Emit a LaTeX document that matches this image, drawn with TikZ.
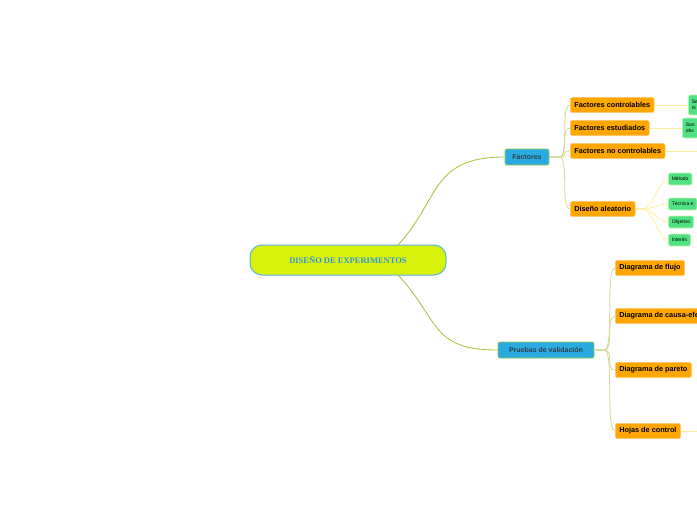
\documentclass[tikz,border=0pt]{standalone}
\usetikzlibrary{calc}
\usepackage{fontspec}
\setsansfont{Liberation Sans}
\setmainfont{Liberation Serif}
\begin{document}
\begin{tikzpicture}[x=1pt,y=-1pt,
 base/.style={rounded corners=2pt,inner sep=0pt,font=\sffamily\bfseries},
 root/.style={base,rounded corners=12pt,fill={rgb,255:red,217;green,242;blue,12},draw={rgb,255:red,90;green,180;blue,230},line width=1pt,minimum width=196pt,minimum height=30pt,font=\rmfamily\bfseries\fontsize{8.5}{9}\selectfont,text={rgb,255:red,50;green,150;blue,220}},
 blue/.style={base,fill={rgb,255:red,41;green,171;blue,226},draw={rgb,255:red,150;green,200;blue,80},line width=0.8pt,minimum height=16pt,font=\sffamily\bfseries\fontsize{7}{8}\selectfont,text={rgb,255:red,50;green,60;blue,70}},
 orange/.style={base,fill={rgb,255:red,255;green,166;blue,0},draw={rgb,255:red,255;green,200;blue,110},line width=0.6pt,minimum height=15pt,font=\sffamily\bfseries\fontsize{7.3}{8}\selectfont,anchor=west,inner xsep=4pt},
 green/.style={base,fill={rgb,255:red,80;green,225;blue,130},draw={rgb,255:red,200;green,245;blue,180},line width=0.6pt,minimum height=12pt,font=\sffamily\fontsize{5}{5.5}\selectfont,anchor=west,inner xsep=3.5pt,align=left},
 l1/.style={draw={rgb,255:red,170;green,190;blue,60},line width=0.8pt},
 l2/.style={draw={rgb,255:red,215;green,215;blue,150},line width=0.8pt},
 l3/.style={draw={rgb,255:red,255;green,240;blue,160},line width=0.8pt}]
\useasboundingbox (0,0) rectangle (697,520);
\clip (0,0) rectangle (697,520);
\fill[white] (0,0) rectangle (697,520);
\node[root] (r) at (348,260) {DISEÑO DE EXPERIMENTOS};
\node[blue,minimum width=44pt] (f) at (527,157) {Factores};
\node[blue,minimum width=96pt] (p) at (546,350) {Pruebas de validación};
\node[orange] (fc) at (570,105) {Factores controlables};
\node[orange] (fe) at (570,128) {Factores estudiados};
\node[orange] (fn) at (570,151) {Factores no controlables};
\node[orange] (da) at (570,209) {Diseño aleatorio};
\node[orange] (d1) at (615,268) {Diagrama de flujo};
\node[orange] (d2) at (615,316) {Diagrama de causa-efecto};
\node[orange] (d3) at (615,370) {Diagrama de pareto};
\node[orange] (d4) at (615,431) {Hojas de control};
\node[green,minimum height=20pt] (g1) at (688,105) {Se\\ni};
\node[green,minimum height=20pt] (g2) at (682,128) {Son\\obs};
\node[green] (m) at (668,179) {Método};
\node[green] (t) at (668,204) {Técnica e};
\node[green] (o) at (668,222) {Objetivo};
\node[green] (i) at (668,240) {Interés};
\coordinate (fnend) at (697,151);
\coordinate (d4end) at (697,431);
\coordinate (rt) at (398,245);
\coordinate (rb) at (398,275);
\draw[l1] (rt) .. controls (440,200) and (430,157) .. (f.west);
\draw[l1] (rb) .. controls (440,320) and (430,350) .. (p.west);
\foreach \c in {fc,fe,fn,da}{\draw[l2] (f.east) -- ++(10,0) .. controls ($(f.east)+(20,0)$) and ($(\c.west)+(-10,0)$) .. (\c.west);}
\foreach \c in {d1,d2,d3,d4}{\draw[l2] (p.east) -- ++(10,0) .. controls ($(p.east)+(20,0)$) and ($(\c.west)+(-10,0)$) .. (\c.west);}
\draw[l3] (fc.east) -- (g1.west);
\draw[l3] (fe.east) -- (g2.west);
\draw[l3] (fn.east) -- (fnend);
\draw[l3] (d4.east) -- (d4end);
\foreach \c in {m,t,o,i}{\draw[l3] (da.east) -- ++(8,0) .. controls ($(da.east)+(16,0)$) and ($(\c.west)+(-8,0)$) .. (\c.west);}
\end{tikzpicture}
\end{document}
